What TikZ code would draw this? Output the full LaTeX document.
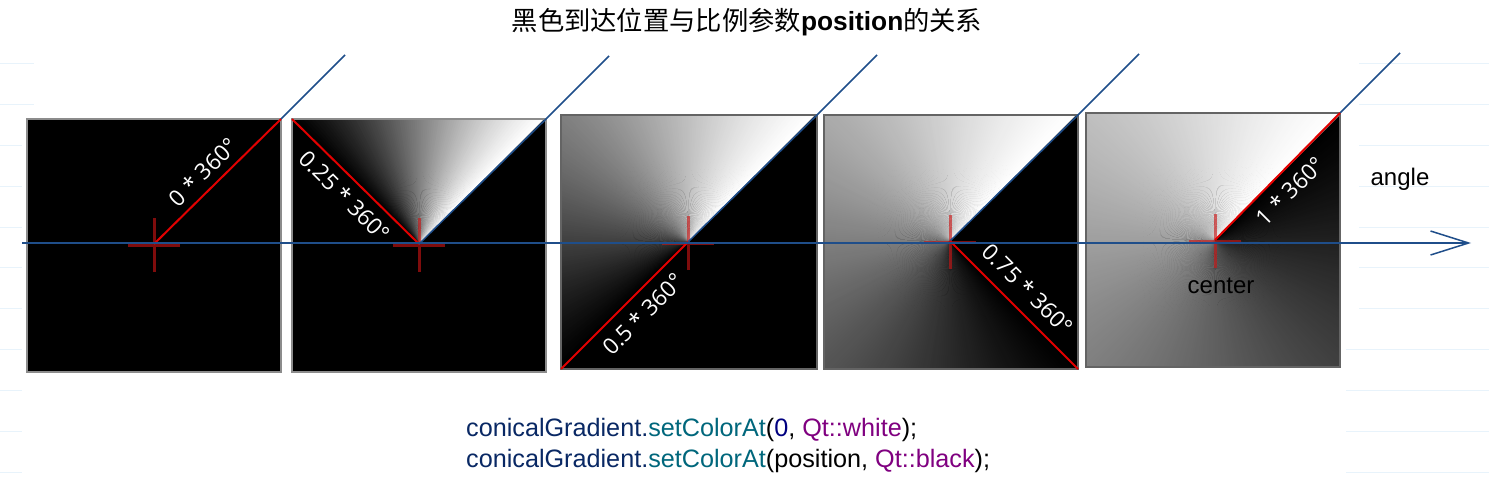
\documentclass[tikz,border=0pt]{standalone}
\usepackage{fontspec}
\setmainfont{Liberation Sans}
\newfontfamily\cjkfont{Noto Sans CJK SC}
\newfontfamily\labfont{Open Sans}
\usetikzlibrary{arrows.meta}
\definecolor{axisblue}{RGB}{31,78,138}
\definecolor{diagred}{RGB}{226,0,0}
\definecolor{crossred}{RGB}{205,20,20}
\definecolor{codenavy}{RGB}{9,40,100}
\definecolor{codeteal}{RGB}{0,103,124}
\definecolor{codepurple}{RGB}{128,0,128}
\definecolor{numnavy}{RGB}{0,0,128}
\definecolor{faintline}{RGB}{232,243,251}
\definecolor{panelborderA}{RGB}{140,140,140}
\definecolor{panelborderB}{RGB}{100,100,100}

% #1 x0, #2 y0 (top), #3 x1, #4 y1 (bottom), #5 cx, #6 cy, #7 position
\newcommand{\conefill}[7]{%
  \begin{scope}
    \clip (#1,-#2) rectangle (#3,-#4);
    \fill[black] (#1,-#2) rectangle (#3,-#4);
    \ifdim #7pt>0pt
      \pgfmathsetmacro{\nst}{int(360*#7)}
      \foreach \k in {1,...,\nst} {
        \pgfmathsetmacro{\wa}{45+\k-1}
        \pgfmathsetmacro{\wb}{min(45+\k+0.4,45+360*#7)}
        \pgfmathsetmacro{\lev}{(\k-0.5)/(3.6*#7)}
        \fill[black!\lev!white, shift={(#5,-#6)}] (0,0) -- (\wa:320) -- (\wb:320) -- cycle;
      }
    \fi
  \end{scope}}

\begin{document}
\begin{tikzpicture}[x=1pt,y=1pt,
  bluel/.style={draw=axisblue, line width=1.5pt},
  redl/.style={draw=diagred, line width=2pt},
  crossl/.style={draw=crossred, line width=3pt, opacity=0.62},
  faint/.style={draw=faintline, line width=1pt},
  lab/.style={text=white, font=\labfont\fontsize{22.5}{26}\selectfont, inner sep=0pt},
  plain/.style={text=black, font=\fontsize{24}{28}\selectfont, inner sep=0pt},
  codetext/.style={anchor=base west, inner sep=0pt, font=\fontsize{25.2}{30}\selectfont}]
\useasboundingbox (0,0) rectangle (1489,-493);
\fill[white] (0,0) rectangle (1489,-493);

% faint notebook lines
\foreach \yy in {63,104,145,186,227,267,308}
  \draw[faint] (0,-\yy) -- (22,-\yy) (1359,-\yy) -- (1489,-\yy);
\foreach \yy in {349,390,431,472}
  \draw[faint] (0,-\yy) -- (22,-\yy) (1346,-\yy) -- (1489,-\yy);
\draw[faint] (0,-63) -- (34,-63) (0,-104) -- (34,-104);

% centres and corners
\coordinate (c1) at (154,-244);
\coordinate (c2) at (419,-244);
\coordinate (c3) at (688,-242);
\coordinate (c4) at (950,-241);
\coordinate (c5) at (1215,-240);
\coordinate (k1) at (281,-119);
\coordinate (k2) at (546,-119);
\coordinate (k3) at (817,-115);
\coordinate (k4) at (1078,-115);
\coordinate (k5) at (1340,-113);
\coordinate (t1) at (345,-55);
\coordinate (t2) at (609,-56);
\coordinate (t3) at (877,-55);
\coordinate (t4) at (1139,-54);
\coordinate (t5) at (1400,-53);
\coordinate (r2) at (292,-119);
\coordinate (r3) at (561,-369);
\coordinate (r4) at (1078,-369);

% panels
\conefill{27}{119}{281}{372}{154}{244}{0}
\conefill{292}{119}{546}{372}{419}{244}{0.25}
\conefill{561}{115}{817}{369}{688}{242}{0.5}
\conefill{824}{115}{1078}{369}{950}{241}{0.75}
\conefill{1086}{113}{1340}{367}{1215}{240}{1}
\draw[panelborderA, line width=1.5pt] (27,-119) rectangle (281,-372);
\draw[panelborderA, line width=1.5pt] (292,-119) rectangle (546,-372);
\draw[panelborderB, line width=1.8pt] (561,-115) rectangle (817,-369);
\draw[panelborderB, line width=1.8pt] (824,-115) rectangle (1078,-369);
\draw[panelborderB, line width=1.8pt] (1086,-113) rectangle (1340,-367);

% red crosshairs
\foreach \c in {c1,c2,c3,c4,c5}
  \draw[crossl] ([xshift=-26pt,yshift=-1.5pt]\c) -- ([xshift=26pt,yshift=-1.5pt]\c)
                ([yshift=-28pt]\c) -- ([yshift=26pt]\c);

% blue diagonal lines
\draw[bluel] (k1) -- (t1);
\draw[bluel] (c2) -- (k2) -- (t2);
\draw[bluel] (c3) -- (k3) -- (t3);
\draw[bluel] (c4) -- (k4) -- (t4);
\draw[bluel] (k5) -- (t5);

% red position lines
\draw[redl] (c1) -- (k1);
\draw[redl] (c2) -- (r2);
\draw[redl] (c3) -- (r3);
\draw[redl] (c4) -- (r4);
\draw[redl] (c5) -- (k5);

% axis
\coordinate (axs) at (22,-243);
\coordinate (axe) at (1471,-243);
\draw[bluel, -{Straight Barb[length=38pt,width=24pt,line width=1.5pt]}] (axs) -- (axe);

% labels
\node[lab, rotate=45] (l1) at (203,-172) {0 * 360°};
\node[lab, rotate=-45] (l2) at (345,-196) {0.25 * 360°};
\node[lab, rotate=45] (l3) at (643,-314) {0.5 * 360°};
\node[lab, rotate=-45] (l4) at (1028,-289) {0.75 * 360°};
\node[lab, rotate=45] (l5) at (1290,-191) {1 * 360°};
\node[plain] (centerlab) at (1221,-286) {center};
\node[plain] (anglelab) at (1400,-179) {angle};

% title
\node[inner sep=0pt] (title) at (747,-22) {\cjkfont\fontsize{26.3}{30}\selectfont 黑色到达位置与比例参数{\normalfont\bfseries position}的关系};

% code
\node[codetext] (code1) at (466,-436)
  {\color{codenavy}conicalGradient.\color{codeteal}setColorAt\color{black}(\color{numnavy}0\color{black}, \color{codepurple}Qt::white\color{black});};
\node[codetext] (code2) at (466,-467)
  {\color{codenavy}conicalGradient.\color{codeteal}setColorAt\color{black}(position, \color{codepurple}Qt::black\color{black});};
\end{tikzpicture}
\end{document}
